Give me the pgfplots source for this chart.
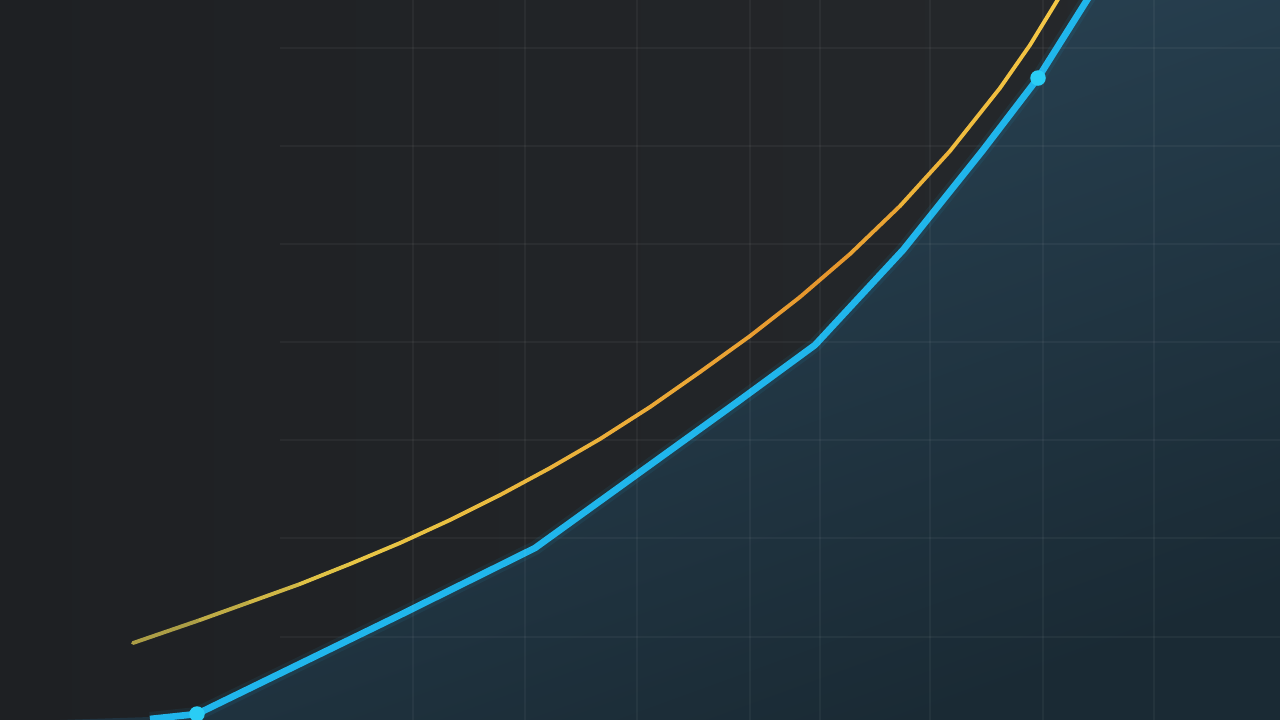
\documentclass[border=0pt]{standalone}
\usepackage{pgfplots}
\pgfplotsset{compat=1.18}

\definecolor{bgleft}{HTML}{1E2023}
\definecolor{bgright}{HTML}{26292C}
\definecolor{filltop}{HTML}{2B4658}
\definecolor{fillbot}{HTML}{1A2A34}
\definecolor{blueline}{HTML}{20B6EC}
\definecolor{bluedot}{HTML}{2ACDF5}

\begin{document}
\begin{tikzpicture}
	\begin{axis}[
			scale only axis,
			width  = 12.8cm,
			height = 7.2cm,
			xmin   = 0,
			xmax   = 1280,
			ymin   = 0,
			ymax   = 720,
			y dir  = reverse,
			axis line style = {draw=none},
			axis background/.style = {shade, left color=bgleft, right color=bgright},
			xtick  = {413,525,637,750,820,930,1043,1154},
			ytick  = \empty,
			xticklabels = {},
			major tick length = 0pt,
			xmajorgrids,
			major grid style = {white, opacity=0.045, line width=0.6pt},
			axis on top,
			clip   = true,
		]

		% Area under the blue series
		\addplot[
			draw = none,
			top color    = filltop,
			bottom color = fillbot,
			shading angle = 20,
		] coordinates {
			(60,720) (150,717) (197,713) (400,615) (535,548) (740,400)
			(815,345) (903,250) (983,150) (1038,78) (1090,0)
			(1280,0) (1280,720)
		} -- cycle;

		% Horizontal grid lines (start right of the left margin)
		\pgfplotsinvokeforeach{48,146,244,342,440,538,637}{
			\draw[white, opacity=0.045, line width=0.6pt] (axis cs:280,#1) -- (axis cs:1280,#1);
		}

		% Blue series: soft glow and line
		\addplot[
			color      = blueline,
			opacity    = 0.08,
			line width = 4pt,
		] coordinates {
			(150,719) (197,714) (400,615) (535,548) (740,400) (815,345)
			(903,250) (983,150) (1038,78) (1087,0) (1100,-20)
		};
		\addplot[
			color      = blueline,
			line width = 1.9pt,
			line join  = round,
		] coordinates {
			(150,719) (197,714) (400,615) (535,548) (740,400) (815,345)
			(903,250) (983,150) (1038,78) (1087,0) (1100,-20)
		};

		% Highlighted points
		\addplot[
			only marks,
			mark       = *,
			mark size  = 2pt,
			color      = bluedot,
		] coordinates {(197,714) (1038,78)};

		% Yellow/orange series, colour varies along the line
		\addplot[
			mesh,
			line width = 1.1pt,
			line cap   = round,
			point meta = explicit,
			point meta min = 130,
			point meta max = 1060,
			colormap = {yo}{
				rgb255(0)=(160,150,70);
				rgb255(250)=(232,200,70);
				rgb255(600)=(236,170,55);
				rgb255(800)=(230,150,45);
				rgb255(930)=(238,185,60);
				rgb255(1060)=(245,200,70)
			},
		] coordinates {
			(133,643) [133]
			(200,620) [200]
			(250,602) [250]
			(300,584) [300]
			(350,564) [350]
			(400,543) [400]
			(450,520) [450]
			(500,495) [500]
			(550,468) [550]
			(600,439) [600]
			(650,407) [650]
			(700,372) [700]
			(750,336) [750]
			(800,297) [800]
			(850,254) [850]
			(900,206) [900]
			(950,151) [950]
			(1000,88) [1000]
			(1030,45) [1030]
			(1060,-4) [1060]
		};
	\end{axis}
	\pgfresetboundingbox
	\useasboundingbox (0,0) rectangle (12.8cm,7.2cm);
\end{tikzpicture}
\end{document}
